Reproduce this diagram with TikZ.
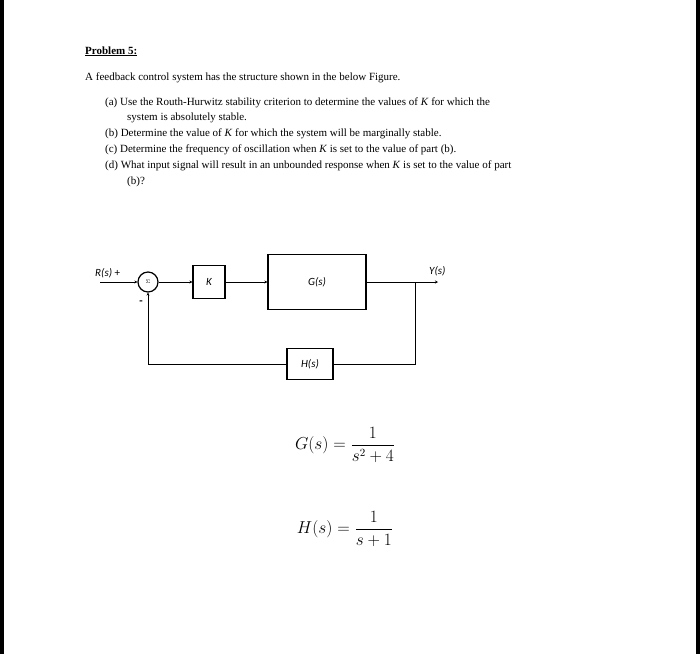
\documentclass[tikz,border=0pt]{standalone}
\usepackage{amsmath}
\usepackage{fontspec}
\setmainfont{Liberation Serif}
\newfontfamily\diagfont{Carlito}
\usetikzlibrary{arrows.meta}
\begin{document}
\begin{tikzpicture}[x=1pt,y=-1pt,
  blk/.style={draw,line width=1.2pt,minimum width=#1,inner sep=0pt},
  lbl/.style={font=\diagfont\itshape\fontsize{11}{12}\selectfont,inner sep=0pt},
  ln/.style={line width=0.9pt},
  arr/.style={ln,-{Stealth[length=3pt,width=3pt]}},
  txt/.style={anchor=base west,inner sep=0pt,font=\fontsize{11}{13}\selectfont}]
\useasboundingbox (0,0) rectangle (700,654);
\fill[black] (0,0) rectangle (4,654);
\fill[black] (696,0) rectangle (700,654);
\node[txt,font=\bfseries\fontsize{11}{13}\selectfont] (t0) at (85,54) {\underline{Problem 5:}};
\node[txt] (t1) at (85,80) {A feedback control system has the structure shown in the below Figure.};
\node[txt] (ta) at (105,105) {(a) Use the Routh-Hurwitz stability criterion to determine the values of \textit{K} for which the};
\node[txt] (ta2) at (127,120) {system is absolutely stable.};
\node[txt] (tb) at (105,136) {(b) Determine the value of \textit{K} for which the system will be marginally stable.};
\node[txt] (tc) at (105,152) {(c) Determine the frequency of oscillation when \textit{K} is set to the value of part (b).};
\node[txt] (td) at (105,168) {(d) What input signal will result in an unbounded response when \textit{K} is set to the value of part};
\node[txt] (td2) at (127,184) {(b)?};
% diagram
\node[draw,circle,line width=1.2pt,minimum size=20pt,inner sep=0pt,font=\fontsize{5}{6}\selectfont] (sum) at (148,282) {$\Sigma$};
\node[blk=32pt,minimum height=33pt,lbl] (K) at (209,282) {K};
\node[blk=98pt,minimum height=55pt,lbl] (G) at (317,282) {G(s)};
\node[blk=46pt,minimum height=31pt,lbl] (H) at (310,364) {H(s)};
\coordinate (in) at (100,282);
\coordinate (out) at (438,282);
\coordinate (br) at (415,282);
\coordinate (bb) at (415,364);
\coordinate (bl) at (148,364);
\draw[arr] (in) -- (sum);
\draw[arr] (sum) -- (K);
\draw[arr] (K) -- (G);
\draw[arr] (G) -- (out);
\draw[ln] (br) -- (bb) -- (H.east);
\draw[arr] (H.west) -- (bl) -- (sum.south);
\node[lbl,anchor=base west] (R) at (95,276) {R(s) \upshape+};
\node[lbl,anchor=base west] (Y) at (429,274) {Y(s)};
\node[lbl] (minus) at (141,303) {\upshape\bfseries -};
\node[font=\fontsize{16}{18}\selectfont] (eg) at (345,445) {$G(s)=\dfrac{1}{s^2+4}$};
\node[font=\fontsize{16}{18}\selectfont] (eh) at (345,529) {$H(s)=\dfrac{1}{s+1}$};
\end{tikzpicture}
\end{document}
